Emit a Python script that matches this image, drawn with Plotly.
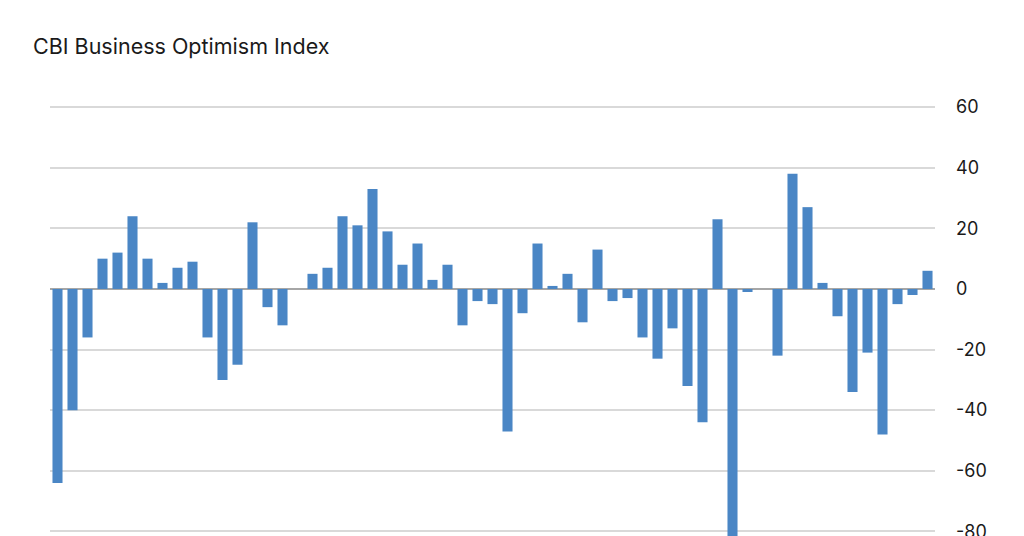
import plotly.graph_objects as go

# CBI Business Optimism Index (balance, %), one value per period
periods = list(range(1, 60))
optimism = [-64, -40, -16, 10, 12, 24, 10, 2, 7, 9,
            -16, -30, -25, 22, -6, -12, 0, 5, 7, 24,
            21, 33, 19, 8, 15, 3, 8, -12, -4, -5,
            -47, -8, 15, 1, 5, -11, 13, -4, -3, -16,
            -23, -13, -32, -44, 23, -87, -1, 0, -22, 38,
            27, 2, -9, -34, -21, -48, -5, -2, 6]

tick_vals = [60, 40, 20, 0, -20, -40, -60, -80]
tick_text = ["60", "40", "20", "0", "-20", "-40", "-60", "-80"]

fig = go.Figure(go.Bar(
    x=periods, y=optimism,
    marker=dict(color="#4a86c5", line=dict(width=0)),
))

fig.update_layout(
    width=1024, height=612,
    margin=dict(l=50, r=89, t=92, b=20),
    paper_bgcolor="white", plot_bgcolor="white",
    bargap=0.33,
    showlegend=False,
    font=dict(family="Inter, 'Open Sans', sans-serif", color="#1a1a1a"),
    title=dict(text="CBI Business Optimism Index", x=33/1024, xanchor="left",
               y=1-46/612, yanchor="middle", yref="container",
               font=dict(size=21.5, color="#1a1a1a")),
    xaxis=dict(range=[0.5, 59.5], showticklabels=False, showgrid=False,
               zeroline=False, showline=False, ticks=""),
    yaxis=dict(range=[-100, 65], side="right", tickvals=tick_vals, ticktext=tick_text,
               showgrid=True, gridcolor="#d9d9d9", gridwidth=1.5,
               zeroline=True, zerolinecolor="#a6a6a6", zerolinewidth=2,
               ticks="", ticklabelstandoff=20,
               tickfont=dict(size=18, color="#1a1a1a"), showline=False),
)

fig.write_html("out.html")
